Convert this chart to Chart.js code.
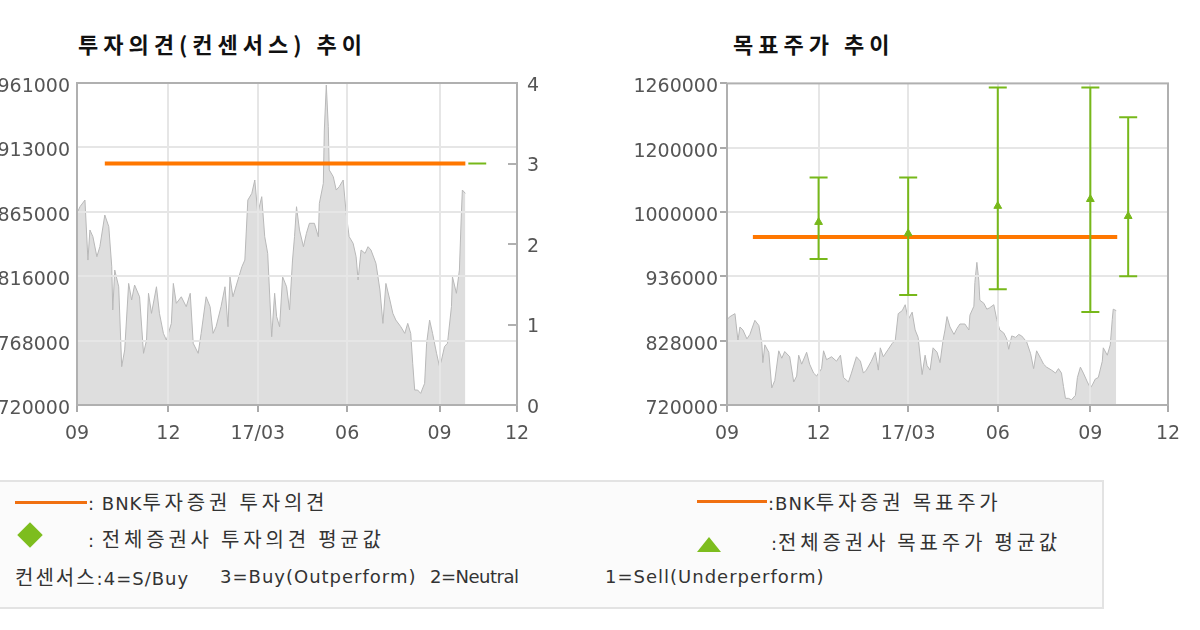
<!DOCTYPE html>
<html>
<head>
<meta charset="utf-8">
<script src="https://cdn.jsdelivr.net/npm/chart.js@4.4.1/dist/chart.umd.min.js"></script>
<style>
body{margin:0;width:1200px;height:630px;background:#fff;position:relative;overflow:hidden;font-family:"DejaVu Sans","Noto Sans CJK KR",sans-serif;}
.title{position:absolute;top:27px;font-family:"Noto Sans CJK KR";font-weight:bold;font-size:22px;letter-spacing:5px;color:#111;white-space:pre;}
canvas{position:absolute;}
#legendBox{position:absolute;left:-2px;top:480px;width:1102px;height:125px;border:2px solid #e3e3e3;background:#fbfbfb;}
.lg{position:absolute;font-size:18px;color:#333;line-height:24px;white-space:pre;letter-spacing:1px;}
.k{font-family:"Noto Sans CJK KR";font-size:20px;letter-spacing:3.8px;}
.bar{position:absolute;height:3px;background:#f07010;}
.diamond{position:absolute;left:21px;top:526px;width:18px;height:18px;background:#7dbd1e;transform:rotate(45deg);}
.tri{position:absolute;left:697px;top:537px;width:0;height:0;border-left:12px solid transparent;border-right:12px solid transparent;border-bottom:15px solid #7dbd1e;}
</style>
</head>
<body>
<div class="title" style="left:78px">투자의견(컨센서스) 추이</div>
<div class="title" style="left:733px">목표주가 추이</div>
<canvas id="opinionChart" width="560" height="380" style="left:0;top:70px"></canvas>
<canvas id="targetChart" width="580" height="380" style="left:620px;top:70px"></canvas>

<div id="legendBox"></div>
<div class="bar" style="left:15px;top:501px;width:72px"></div>
<div class="lg" style="left:88px;top:490px">: BNK<span class="k">투자증권 투자의견</span></div>
<div class="diamond"></div>
<div class="lg" style="left:88px;top:527px">: <span class="k">전체증권사 투자의견 평균값</span></div>
<div class="lg" style="left:15px;top:565px"><span class="k" style="letter-spacing:2px">컨센서스</span>:4=S/Buy</div>
<div class="lg" style="left:220px;top:565px">3=Buy(Outperform)</div>
<div class="lg" style="left:430px;top:565px;letter-spacing:-0.5px">2=Neutral</div>
<div class="lg" style="left:605px;top:565px">1=Sell(Underperform)</div>
<div class="bar" style="left:697px;top:500px;width:70px"></div>
<div class="lg" style="left:768px;top:490px">:BNK<span class="k">투자증권 목표주가</span></div>
<div class="tri"></div>
<div class="lg" style="left:771px;top:530px">:<span class="k">전체증권사 목표주가 평균값</span></div>

<script>
// x축: 2016-09-01 기준 경과일
const tickDays = [0, 92, 182, 272, 365, 443];
const tickLabels = ['09', '12', '17/03', '06', '09', '12'];

// 주가 (종가)
const priceDays = [0, 3, 8, 11, 13, 16, 20, 23, 28, 32, 35, 36, 38, 42, 45, 48, 52, 55, 58, 63,
  67, 70, 72, 75, 80, 83, 87, 90, 95, 97, 100, 105, 110, 114, 117, 122, 125, 130, 134, 137,
  140, 145, 149, 152, 154, 157, 162, 166, 169, 172, 176, 179, 182, 186, 189, 192, 196, 199, 201, 204,
  207, 211, 214, 217, 219, 221, 224, 228, 231, 234, 239, 243, 244, 248, 249, 251, 253, 254, 258, 261,
  264, 268, 271, 274, 278, 281, 283, 286, 290, 293, 296, 301, 305, 308, 311, 315, 318, 321, 326, 330,
  333, 336, 338, 340, 343, 346, 350, 352, 355, 358, 362, 365, 367, 370, 373, 377, 378, 382, 385, 387,
  388, 391];
const priceValues = [863500, 868400, 873400, 828500, 851000, 846000, 831000, 838500, 862200, 853500, 823500, 791100, 821000, 808500, 748700, 761200, 811000, 798600, 809800, 801000,
  758700, 768600, 803600, 788600, 808500, 788600, 773600, 768600, 781100, 811000, 796100, 801000, 793600, 803600, 766200, 758700, 773600, 801000, 793600, 773600,
  778600, 793600, 808500, 778600, 816000, 801000, 813600, 823500, 828500, 873400, 878400, 888400, 863500, 875900, 846000, 833500, 771100, 803600, 786100, 778600,
  816000, 808500, 791100, 828500, 846000, 868400, 851000, 838500, 848500, 856000, 856000, 846000, 870900, 885900, 925800, 959500, 928300, 895900, 890900, 880900,
  883400, 888400, 863500, 846000, 841000, 831000, 813600, 836000, 833500, 838500, 836000, 826000, 806100, 781100, 811000, 798600, 788600, 783600, 778600, 773600,
  781100, 773600, 751200, 731200, 731200, 728700, 736200, 766200, 783600, 773600, 758700, 748700, 753700, 763700, 766200, 793600, 816000, 803600, 821000, 863500,
  880900, 878400];

// 투자의견 차트
const opinionPriceTicks = ['720000', '768000', '816000', '865000', '913000', '961000'];
const opinionDays = [28, 391];
const opinionValues = [3, 3];
const consensusDays = [394, 412];
const consensusValues = [3, 3];

// 목표주가 차트
const targetPriceTicks = ['720000', '828000', '936000', '1000000', '1200000', '1260000'];
const targetDays = [26, 392];
const targetValues = [1002000, 1002000];
const rangeDays = [92, 182, 272, 365, 403];
const rangeHigh = [1102000, 1102000, 1253000, 1253000, 1203000];
const rangeLow = [965000, 904500, 914500, 876000, 936000];
const rangeMean = [1027000, 1008000, 1054000, 1065500, 1037000];

const ORANGE = '#ff7700';
const GREEN = '#77b81a';
const TICK_FONT = { family: 'DejaVu Sans', size: 19 };
const TICK_COLOR = '#555';
const HIDDEN = 'rgba(0,0,0,0)';

function toPoints(xs, ys) {
  return xs.map((x, i) => ({ x: x, y: ys[i] }));
}

// 가격 영역 위로 격자선, 테두리 그리기
const gridOverArea = {
  id: 'gridOverArea',
  afterDatasetDraw(chart, args) {
    if (args.index !== 0) return;
    const ctx = chart.ctx;
    const a = chart.chartArea;
    const sx = chart.scales.x;
    const sy = chart.scales.y;
    ctx.save();
    ctx.strokeStyle = '#e6e6e6';
    ctx.lineWidth = 2;
    ctx.beginPath();
    sx.ticks.forEach(t => {
      const px = Math.round(sx.getPixelForValue(t.value));
      if (px > a.left + 2 && px < a.right - 2) { ctx.moveTo(px, a.top); ctx.lineTo(px, a.bottom); }
    });
    sy.ticks.forEach(t => {
      const py = Math.round(sy.getPixelForValue(t.value));
      if (py > a.top + 2 && py < a.bottom - 2) { ctx.moveTo(a.left, py); ctx.lineTo(a.right, py); }
    });
    ctx.stroke();
    ctx.restore();
  },
  afterDatasetsDraw(chart) {
    const ctx = chart.ctx;
    const a = chart.chartArea;
    ctx.save();
    ctx.strokeStyle = '#b0b0b0';
    ctx.lineWidth = 2;
    ctx.strokeRect(a.left, a.top, a.right - a.left, a.bottom - a.top);
    const s1 = chart.scales.y1;
    if (s1) {
      ctx.beginPath();
      s1.ticks.forEach(t => {
        const py = Math.round(s1.getPixelForValue(t.value));
        ctx.moveTo(a.right - 9, py); ctx.lineTo(a.right, py);
      });
      ctx.stroke();
    }
    ctx.restore();
  }
};

function xScale() {
  return {
    type: 'linear', min: 0, max: 443,
    afterBuildTicks: s => { s.ticks = tickDays.map(v => ({ value: v })); },
    afterFit: s => { s.height = 45; },
    grid: { drawOnChartArea: false, drawTicks: true, tickLength: 7, tickColor: '#aaa', lineWidth: 2 },
    border: { display: false },
    ticks: {
      autoSkip: false, maxRotation: 0, padding: 11, font: TICK_FONT, color: TICK_COLOR,
      callback: v => tickLabels[tickDays.indexOf(v)]
    }
  };
}

function priceDataset() {
  return {
    type: 'line', data: toPoints(priceDays, priceValues), yAxisID: 'y',
    borderColor: '#b8b8b8', borderWidth: 1, backgroundColor: '#dedede',
    fill: 'start', pointRadius: 0, tension: 0, order: 10
  };
}

new Chart(document.getElementById('opinionChart'), {
  type: 'line',
  data: {
    datasets: [
      priceDataset(),
      { data: toPoints(opinionDays, opinionValues), yAxisID: 'y1', borderColor: ORANGE, borderWidth: 4, pointRadius: 0, order: 2 },
      { data: toPoints(consensusDays, consensusValues), yAxisID: 'y1', borderColor: GREEN, borderWidth: 2, pointRadius: 0, order: 1 }
    ]
  },
  options: {
    responsive: false, animation: false,
    layout: { padding: { top: 13, left: 0, right: 0, bottom: 0 } },
    plugins: { legend: { display: false }, tooltip: { enabled: false } },
    scales: {
      x: xScale(),
      y: {
        position: 'left', min: 720000, max: 961000,
        afterBuildTicks: s => { s.ticks = opinionPriceTicks.map((_, i) => ({ value: 720000 + i * 48200 })); },
        afterFit: s => { s.width = 77; },
        grid: { drawOnChartArea: false, drawTicks: true, tickLength: 7, tickColor: HIDDEN },
        border: { display: false },
        ticks: { padding: 0, labelOffset: 4, font: TICK_FONT, color: TICK_COLOR, callback: (v, i) => opinionPriceTicks[i] }
      },
      y1: {
        position: 'right', min: 0, max: 4,
        ticks: { stepSize: 1, padding: 0, labelOffset: 3, font: TICK_FONT, color: TICK_COLOR },
        afterFit: s => { s.width = 43; },
        grid: { drawOnChartArea: false, drawTicks: true, tickLength: 10, tickColor: HIDDEN },
        border: { display: false }
      }
    }
  },
  plugins: [gridOverArea]
});

const rangePoints = rangeDays.flatMap((d, i) => [{ x: d, y: rangeHigh[i] }, { x: d, y: rangeLow[i] }, { x: d, y: null }]);

new Chart(document.getElementById('targetChart'), {
  type: 'line',
  data: {
    datasets: [
      priceDataset(),
      { data: toPoints(targetDays, targetValues), borderColor: ORANGE, borderWidth: 4, pointRadius: 0, order: 3 },
      { data: rangePoints, borderColor: GREEN, borderWidth: 2, spanGaps: false,
        pointStyle: 'line', pointRadius: 9, pointBorderWidth: 2, pointBorderColor: GREEN, order: 2 },
      { data: toPoints(rangeDays, rangeMean), showLine: false, pointStyle: 'triangle',
        pointRadius: 4.5, pointBackgroundColor: GREEN, pointBorderColor: GREEN, order: 1 }
    ]
  },
  options: {
    responsive: false, animation: false,
    layout: { padding: { top: 13, left: 0, right: 32, bottom: 0 } },
    plugins: { legend: { display: false }, tooltip: { enabled: false } },
    scales: {
      x: xScale(),
      y: {
        position: 'left', min: 720000, max: 1260000,
        afterBuildTicks: s => { s.ticks = targetPriceTicks.map((_, i) => ({ value: 720000 + i * 108000 })); },
        afterFit: s => { s.width = 107; },
        grid: { drawOnChartArea: false, drawTicks: true, tickLength: 7, tickColor: '#aaa', lineWidth: 2 },
        border: { display: false },
        ticks: { padding: 2, labelOffset: 4, font: TICK_FONT, color: TICK_COLOR, callback: (v, i) => targetPriceTicks[i] }
      }
    }
  },
  plugins: [gridOverArea]
});
</script>
</body>
</html>
